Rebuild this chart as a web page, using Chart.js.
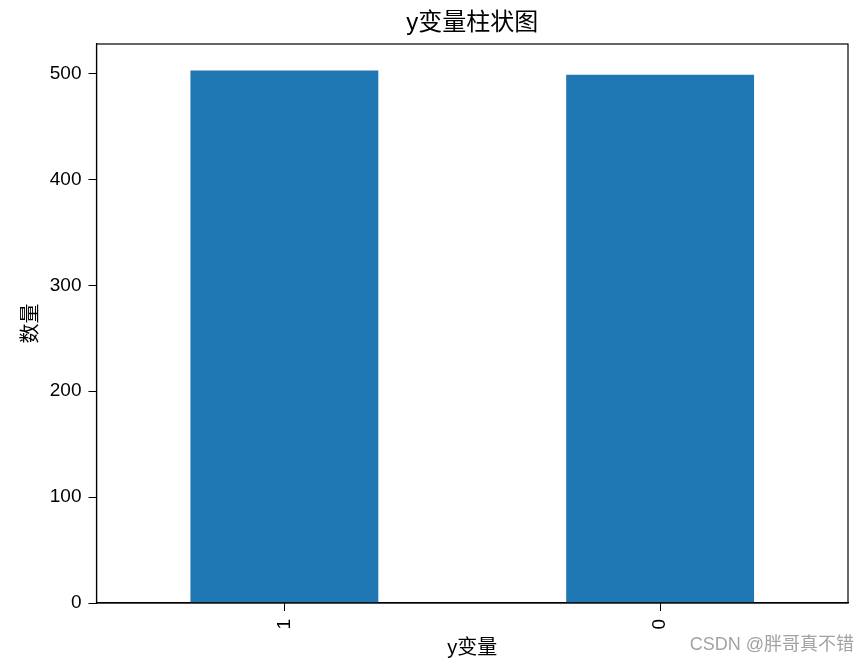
<!DOCTYPE html>
<html>
<head>
<meta charset="utf-8">
<title>y变量柱状图</title>
<script src="https://cdn.jsdelivr.net/npm/chart.js@4/dist/chart.umd.min.js"></script>
<style>
  html, body { margin: 0; padding: 0; background: #fff; }
  #wrap { width: 865px; height: 665px; }
</style>
</head>
<body>
<div id="wrap"><canvas id="barGraph"></canvas></div>
<script>
'use strict';

// datos
var categorias = ['1', '0'];
var cantidades = [503, 499];
var marcasY = [0, 100, 200, 300, 400, 500];
var titulo = 'y变量柱状图';
var tituloX = 'y变量';
var tituloY = '数量';
var marcaAgua = 'CSDN @胖哥真不错';

var fuente = "'Liberation Sans', 'Noto Sans CJK SC', sans-serif";

// marco completo, titulo centrado sobre el area y marca de agua
var marco = {
  id: 'marco',
  afterDraw: function (chart) {
    var ctx = chart.ctx;
    var a = chart.chartArea;
    ctx.save();
    ctx.strokeStyle = '#000';
    ctx.lineWidth = 1.2;
    ctx.strokeRect(a.left, a.top, a.right - a.left, a.bottom - a.top);

    ctx.fillStyle = '#000';
    ctx.font = '24px ' + fuente;
    ctx.textAlign = 'center';
    ctx.textBaseline = 'middle';
    ctx.fillText(titulo, (a.left + a.right) / 2, 23);

    ctx.fillStyle = '#a3a3a3';
    ctx.font = '18px ' + fuente;
    ctx.textAlign = 'right';
    ctx.fillText(marcaAgua, 854, 645);
    ctx.restore();
  }
};

var ctx = document.getElementById('barGraph').getContext('2d');
var myChart = new Chart(ctx, {
  type: 'bar',
  data: {
    labels: categorias,
    datasets: [{
      data: cantidades,
      backgroundColor: '#1f77b4',
      borderWidth: 0,
      categoryPercentage: 0.5,
      barPercentage: 1
    }]
  },
  options: {
    responsive: true,
    maintainAspectRatio: false,
    animation: false,
    layout: { padding: { left: 0, right: 17, top: 44, bottom: 0 } },
    plugins: {
      legend: { display: false },
      tooltip: { enabled: false },
      title: { display: false }
    },
    scales: {
      x: {
        grid: { offset: false, drawOnChartArea: false, tickLength: 8, tickColor: '#000', tickWidth: 1 },
        border: { color: '#000', width: 1.2 },
        ticks: {
          color: '#000',
          font: { family: fuente, size: 19 },
          minRotation: 90,
          maxRotation: 90,
          padding: 8
        },
        title: {
          display: true,
          text: tituloX,
          color: '#000',
          font: { family: fuente, size: 20 },
          padding: { top: 0, bottom: 5 }
        },
        afterFit: function (scale) { scale.height = 62; }
      },
      y: {
        min: 0,
        max: 528,
        grid: { drawOnChartArea: false, tickLength: 8, tickColor: '#000', tickWidth: 1 },
        border: { color: '#000', width: 1.2 },
        afterBuildTicks: function (scale) {
          scale.ticks = marcasY.map(function (v) { return { value: v }; });
        },
        ticks: {
          color: '#000',
          font: { family: fuente, size: 19 },
          padding: 7
        },
        title: {
          display: true,
          text: tituloY,
          color: '#000',
          font: { family: fuente, size: 20 },
          padding: { top: 19, bottom: 0 }
        },
        afterFit: function (scale) { scale.width = 96.5; }
      }
    }
  },
  plugins: [marco]
});
</script>
</body>
</html>
